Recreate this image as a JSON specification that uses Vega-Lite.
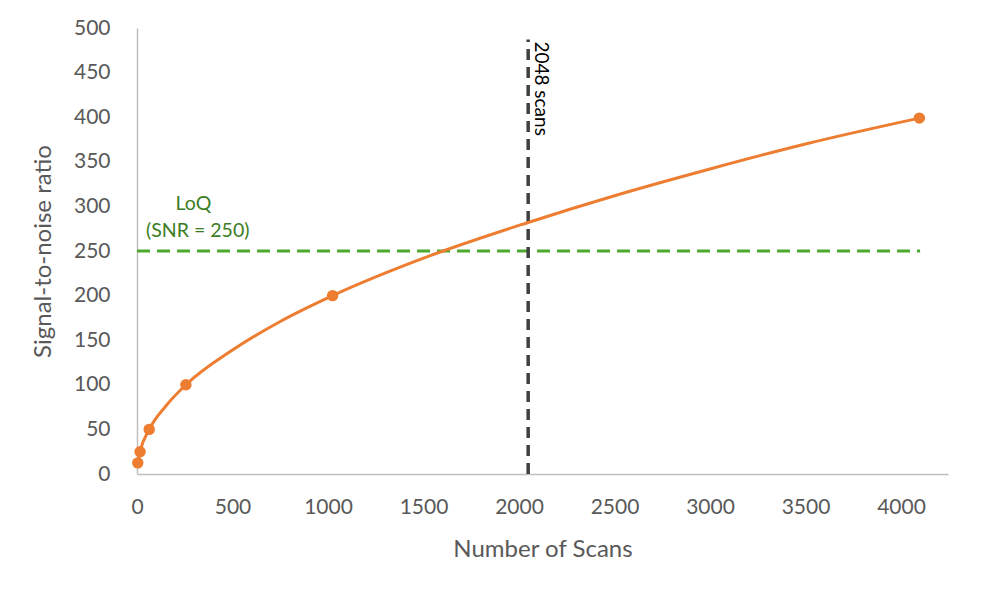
{
  "$schema": "https://vega.github.io/schema/vega-lite/v6.json",
  "autosize": {"type": "none"},
  "padding": {"left": 137, "top": 28, "right": 52, "bottom": 125},
  "width": 811,
  "height": 446,
  "background": "white",
  "config": {
    "view": {"stroke": null},
    "font": "Lato",
    "axis": {"grid": false, "ticks": false, "tickSize": 0, "domainColor": "#bfbfbf", "domainWidth": 1.5, "labelColor": "#595959", "titleColor": "#595959", "labelFont": "Lato", "titleFont": "Lato", "labelFontSize": 21, "titleFontSize": 24, "titleFontWeight": "normal", "labelFlush": false}
  },
  "datasets": {
    "measured": [
      {"scans": 4, "snr": 12.5},
      {"scans": 16, "snr": 25},
      {"scans": 64, "snr": 50},
      {"scans": 256, "snr": 100},
      {"scans": 1024, "snr": 200},
      {"scans": 4096, "snr": 399}
    ],
    "curve": [
      {"scans": 4, "snr": 12.5},
      {"scans": 16, "snr": 25},
      {"scans": 64, "snr": 50},
      {"scans": 150, "snr": 76},
      {"scans": 256, "snr": 100},
      {"scans": 500, "snr": 139},
      {"scans": 750, "snr": 171},
      {"scans": 1024, "snr": 200},
      {"scans": 1500, "snr": 242},
      {"scans": 2048, "snr": 282},
      {"scans": 2500, "snr": 312},
      {"scans": 3000, "snr": 342},
      {"scans": 3500, "snr": 370},
      {"scans": 4096, "snr": 399}
    ],
    "one": [{}]
  },
  "layer": [
    {
      "data": {"name": "one"},
      "mark": {"type": "rule", "color": "#4EA72E", "strokeWidth": 3, "strokeDash": [13, 7]},
      "encoding": {
        "x": {"datum": 0, "type": "quantitative", "scale": {"domain": [0, 4246], "nice": false}},
        "x2": {"datum": 4100},
        "y": {"datum": 250, "type": "quantitative", "scale": {"domain": [0, 500], "nice": false}}
      }
    },
    {
      "data": {"name": "one"},
      "mark": {"type": "rule", "color": "#404040", "strokeWidth": 3.5, "strokeDash": [11, 7]},
      "encoding": {
        "x": {"datum": 2048, "type": "quantitative"},
        "y": {"datum": 0, "type": "quantitative"},
        "y2": {"datum": 487}
      }
    },
    {
      "data": {"name": "curve"},
      "mark": {"type": "line", "color": "#ED7D31", "strokeWidth": 3, "interpolate": "monotone"},
      "encoding": {
        "x": {"field": "scans", "type": "quantitative", "title": "Number of Scans",
              "axis": {"values": [0, 500, 1000, 1500, 2000, 2500, 3000, 3500, 4000], "format": "d", "labelPadding": 22, "titlePadding": 20}},
        "y": {"field": "snr", "type": "quantitative", "title": "Signal-to-noise ratio",
              "axis": {"values": [0, 50, 100, 150, 200, 250, 300, 350, 400, 450, 500], "format": "d", "labelPadding": 27, "titlePadding": 18}}
      }
    },
    {
      "data": {"name": "measured"},
      "mark": {"type": "circle", "color": "#ED7D31", "opacity": 1, "size": 130},
      "encoding": {
        "x": {"field": "scans", "type": "quantitative"},
        "y": {"field": "snr", "type": "quantitative"}
      }
    },
    {
      "data": {"name": "one"},
      "mark": {"type": "text", "text": "2048 scans", "angle": 90, "align": "left", "baseline": "alphabetic", "dy": -7, "fontSize": 19, "color": "#000000", "font": "Lato"},
      "encoding": {
        "x": {"datum": 2048, "type": "quantitative"},
        "y": {"datum": 485, "type": "quantitative"}
      }
    },
    {
      "data": {"name": "one"},
      "mark": {"type": "text", "text": "LoQ", "align": "center", "baseline": "alphabetic", "fontSize": 19.5, "color": "#3B7D23", "font": "Lato"},
      "encoding": {
        "x": {"datum": 295, "type": "quantitative"},
        "y": {"datum": 296, "type": "quantitative"}
      }
    },
    {
      "data": {"name": "one"},
      "mark": {"type": "text", "text": "(SNR = 250)", "align": "center", "baseline": "alphabetic", "fontSize": 19.5, "color": "#3B7D23", "font": "Lato"},
      "encoding": {
        "x": {"datum": 318, "type": "quantitative"},
        "y": {"datum": 266, "type": "quantitative"}
      }
    }
  ]
}
